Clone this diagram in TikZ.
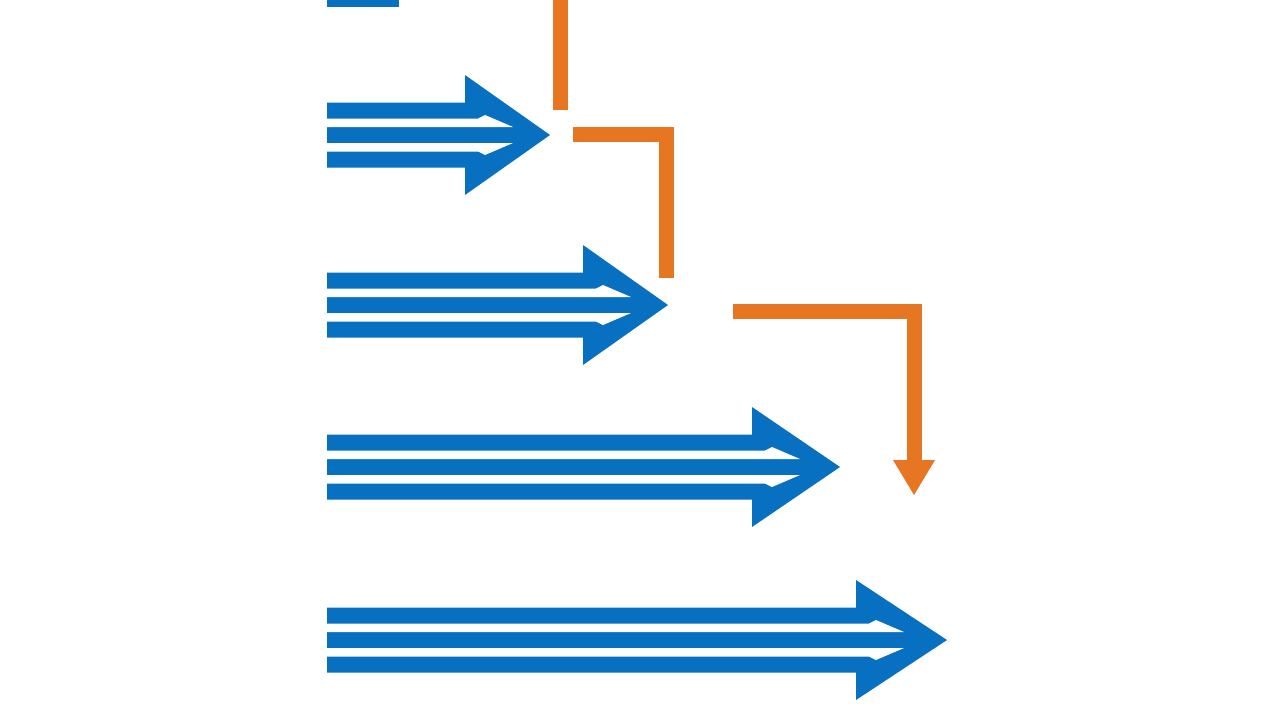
\documentclass[tikz,border=0pt]{standalone}
\definecolor{abl}{RGB}{8,112,192}
\definecolor{aor}{RGB}{231,118,34}
\tikzset{
  oline/.style={draw=aor, line width=0.3cm, line join=miter, line cap=butt},
  ohead/.style={fill=aor},
  barfill/.style={fill=abl},
  gapfill/.style={fill=white}
}
% #1 centre y, #2 left x, #3 back x of head, #4 tip x
\newcommand\triarrow[4]{%
  \fill[barfill] (#2,#1-32.5) -- (#3,#1-32.5) -- (#3,#1-60) -- (#4,#1) -- (#3,#1+60) -- (#3,#1+32.5) -- (#2,#1+32.5) -- cycle;
  \fill[gapfill] (#2-1,#1-16.5) -- (#3+13,#1-16.5) -- (#3+20,#1-20) -- (#3+48,#1-8) -- (#2-1,#1-8) -- cycle;
  \fill[gapfill] (#2-1,#1+16.5) -- (#3+13,#1+16.5) -- (#3+20,#1+20) -- (#3+48,#1+8) -- (#2-1,#1+8) -- cycle;
}
\begin{document}
\begin{tikzpicture}[x=0.02cm, y=-0.02cm]
\useasboundingbox (0,0) rectangle (1280,720);
\fill[white] (0,0) rectangle (1280,720);
\clip (0,0) rectangle (1280,720);
% partial bar at top
\fill[barfill] (327,-10) rectangle (399,7);
% blue triple arrows
\triarrow{135}{327}{465}{550}
\triarrow{305}{327}{583}{668}
\triarrow{467}{327}{752}{840}
\triarrow{640}{327}{856}{947}
% orange connectors
\coordinate (o1a) at (560,-10);
\coordinate (o1b) at (560,110);
\draw[oline] (o1a) -- (o1b);
\coordinate (o2a) at (573,134.5);
\coordinate (o2c) at (666.5,134.5);
\coordinate (o2b) at (666.5,278);
\draw[oline] (o2a) -- (o2c) -- (o2b);
\coordinate (o3a) at (733,311.5);
\coordinate (o3c) at (914,311.5);
\coordinate (o3b) at (914,462);
\draw[oline] (o3a) -- (o3c) -- (o3b);
\fill[ohead] (893,460) -- (935,460) -- (914,495) -- cycle;
\end{tikzpicture}
\end{document}
